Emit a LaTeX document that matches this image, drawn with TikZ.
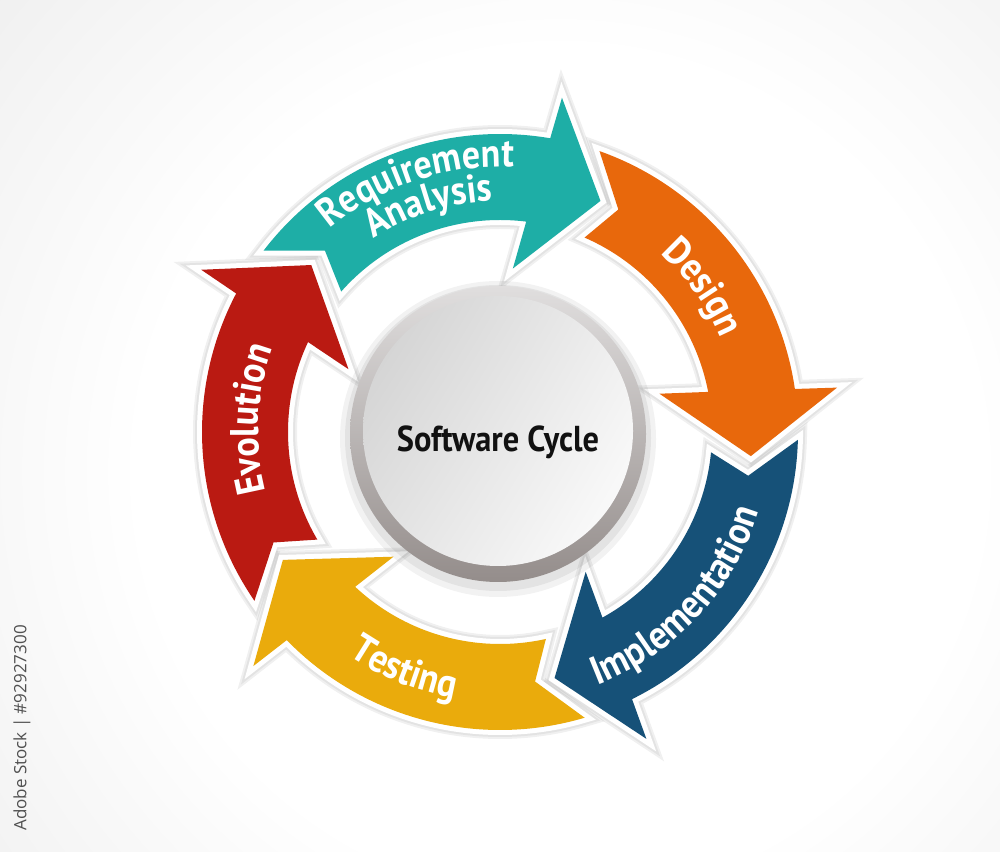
\documentclass[tikz,border=0pt]{standalone}
\usepackage{fontspec}
\usetikzlibrary{decorations.text,shadings}
\newfontfamily\labfont[FakeStretch=0.9]{PT Sans}
\newfontfamily\stockfont{Open Sans}
\definecolor{cteal}{RGB}{30,174,166}
\definecolor{corange}{RGB}{232,104,12}
\definecolor{cblue}{RGB}{22,81,120}
\definecolor{cyellow}{RGB}{234,171,12}
\definecolor{cred}{RGB}{186,26,18}
\definecolor{bggray}{RGB}{212,212,212}
\definecolor{ringtop}{RGB}{224,222,222}
\definecolor{ringbot}{RGB}{148,141,139}
\definecolor{faceul}{RGB}{206,206,206}
\definecolor{faceur}{RGB}{238,238,238}
\definecolor{facell}{RGB}{226,226,226}
\definecolor{titlecol}{RGB}{17,17,17}
\definecolor{stockcol}{RGB}{80,80,80}
\pgfdeclareradialshading{bgshade}{\pgfpoint{0bp}{0bp}}{color(0bp)=(white); color(15bp)=(white); color(48bp)=(bggray); color(100bp)=(bggray)}
\newcommand{\cyclearrowpath}{(80.3:298) arc[start angle=80.3, end angle=142.5, radius=298] -- (134:252) -- (138.5:212) arc[start angle=138.5, end angle=82.9, radius=212] -- (85.5:164) -- (66.5:252) -- (79.5:340) -- cycle}
\tikzset{
  arrshadow/.style={draw=black, draw opacity=0.06, line width=18pt, line join=miter},
  arrshadowin/.style={draw=black, draw opacity=0.05, line width=14pt, line join=miter},
  arrborder/.style={draw=white, line width=10pt, line join=miter},
  lab/.style={decorate, decoration={text along path, text align=center, text={|\labfont\bfseries\fontsize{40}{40}\selectfont\color{white}|#1}}}
}
\begin{document}
\begin{tikzpicture}[x=1pt,y=1pt]
\useasboundingbox (0,0) rectangle (1000,851);
\clip (0,0) rectangle (1000,851);
\shade[shading=bgshade] (-140,-320) rectangle (1260,1080);
% arrows: shadows, white borders, fills
\foreach \k in {0,...,4} {
  \begin{scope}[shift={(500,419)}, rotate=-72*\k]
    \path[arrshadow] \cyclearrowpath;
    \path[arrshadowin] \cyclearrowpath;
  \end{scope}
}
\foreach \k in {0,...,4} {
  \begin{scope}[shift={(500,419)}, rotate=-72*\k]
    \path[arrborder] \cyclearrowpath;
  \end{scope}
}
\foreach \k/\col in {0/cteal,1/corange,2/cblue,3/cyellow,4/cred} {
  \begin{scope}[shift={(500,419)}, rotate=-72*\k]
    \fill[\col] \cyclearrowpath;
  \end{scope}
}
% labels
\begin{scope}[shift={(500,419)}]
  \path[lab=Requirement] (140:265) arc[start angle=140, end angle=77, radius=265];
  \path[lab=Analysis] (139:231) arc[start angle=139, end angle=76, radius=231];
  \path[lab=Design] (67:240) arc[start angle=67, end angle=4, radius=240];
  \path[lab=Implementation] (-80:271) arc[start angle=-80, end angle=-6, radius=271];
  \path[lab=Testing] (-145:270) arc[start angle=-145, end angle=-79, radius=270];
  \path[lab=Evolution] (209:242) arc[start angle=209, end angle=145, radius=242];
\end{scope}
% central disc
\fill[black, opacity=0.05] (498,412) circle (158);
\fill[black, opacity=0.06] (498,413) circle (153);
\shade[top color=ringtop, bottom color=ringbot] (498,417) circle (148);
\shade[upper left=faceul, upper right=faceur, lower left=facell, lower right=white] (498,420) circle (135);
\node[font=\labfont\bfseries\fontsize{36}{36}\selectfont, text=titlecol] (title) at (498,409) {Software Cycle};
% stock id
\node[rotate=90, font=\stockfont\fontsize{17}{17}\selectfont, text=stockcol] (stockid) at (22,123) {Adobe Stock | \#92927300};
\end{tikzpicture}
\end{document}
